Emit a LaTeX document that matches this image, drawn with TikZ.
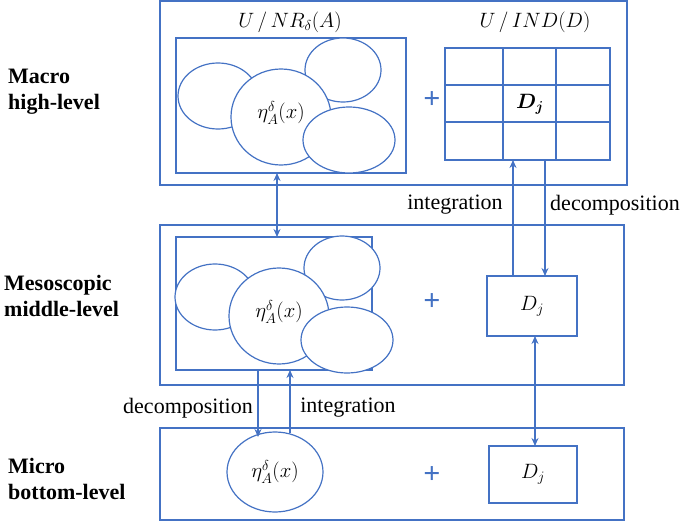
\documentclass[tikz,border=0pt]{standalone}
\usepackage{amsmath}
\usepackage{fontspec}
\setmainfont{Liberation Serif}
\usetikzlibrary{arrows.meta}
\definecolor{bl}{RGB}{68,114,196}
\begin{document}
\begin{tikzpicture}[x=1pt,y=-1pt,
 bx/.style={draw=bl,line width=1.2pt},
 el/.style={draw=bl,line width=1.2pt,fill=white},
 ar/.style={bl,line width=1.3pt,-{Stealth[length=8pt,width=7pt]}},
 dar/.style={bl,line width=1.3pt,{Stealth[length=8pt,width=7pt]}-{Stealth[length=8pt,width=7pt]}},
 lab/.style={font=\fontsize{22}{26}\selectfont,inner sep=0},
 side/.style={font=\fontsize{22}{26}\selectfont\bfseries,align=left,anchor=west,inner sep=0},
 plus/.style={text=bl,font=\fontsize{30}{32}\selectfont\bfseries}]
\useasboundingbox (0,0) rectangle (685,524);
% top
\draw[bx] (160,1) rectangle (627,185);
\node[bx,minimum width=230,minimum height=135,inner sep=0] (tl) at (291,105.5) {};
\draw[el] (218,96) ellipse (40 and 33);
\draw[el] (343,70) ellipse (38 and 32);
\draw[el] (281,117) ellipse (50 and 48);
\draw[el] (349,140) ellipse (46 and 33);
\node[lab] at (281,113) {$\eta_A^{\delta}(x)$};
\node[lab] at (290,22) {$U\,/\,NR_{\delta}(A)$};
\node[lab] at (535,22) {$U\,/\,IND(D)$};
\node[plus] at (432,100) {+};
\node[bx,minimum width=165,minimum height=112,inner sep=0] (grid) at (527.5,104) {};
\draw[bx] (503,48)--(503,160) (556,48)--(556,160) (445,85)--(610,85) (445,122)--(610,122);
\node[lab] at (530,104) {$\boldsymbol{D_j}$};
\node[side] at (8,92) {Macro\\high-level};
% middle
\draw[bx] (160,225) rectangle (624,385);
\node[bx,minimum width=196,minimum height=133,inner sep=0] (ml) at (274,303.5) {};
\draw[el] (215,297) ellipse (40 and 33);
\draw[el] (342,268) ellipse (38 and 32);
\draw[el] (279,316) ellipse (50 and 48);
\draw[el] (347,340) ellipse (46 and 33);
\node[lab] at (279,312) {$\eta_A^{\delta}(x)$};
\node[plus] at (432,302) {+};
\node[bx,minimum width=90,minimum height=60,inner sep=0] (md) at (532,306) {};
\node[lab] at (532,306) {$D_j$};
\node[side] at (4,296) {Mesoscopic\\middle-level};
% bottom
\draw[bx] (160,428) rectangle (624,520);
\draw[el] (275,472) ellipse (48 and 40);
\node[lab] at (275,472) {$\eta_A^{\delta}(x)$};
\node[plus] at (432,475) {+};
\node[bx,minimum width=88,minimum height=57,inner sep=0] (bd) at (533,474.5) {};
\node[lab] at (533,474.5) {$D_j$};
\node[side] at (8,479) {Micro\\bottom-level};
% arrows
\draw[dar] (277,173)--(277,237);
\draw[ar] (513,276)--(513,160);
\draw[ar] (545,160)--(545,276);
\node[lab] at (455,205) {integration};
\node[lab] at (615,205) {decomposition};
\draw[dar] (535,336)--(535,446);
\draw[ar] (258,370)--(258,437);
\draw[ar] (290,433)--(290,370);
\node[lab] at (188,408) {decomposition};
\node[lab] at (348,408) {integration};
\end{tikzpicture}
\end{document}
